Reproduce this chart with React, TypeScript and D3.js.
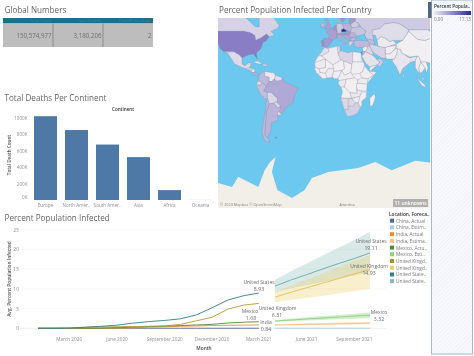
import React from "react";
import * as d3 from "d3";

const FONT = "'Open Sans', sans-serif";

// ---- Global numbers
const globalHeaders = ["Total Cases", "Total Deaths", "DeathPercentage"];
const globalValues = ["150,574,977", "3,180,206", "2"];

// ---- Deaths per continent
const continents = ["Europe", "North Amer..", "South Amer..", "Asia", "Africa", "Oceania"];
const deaths = [1016, 848, 672, 520, 120, 1];
const deathTicks = [0, 200, 400, 600, 800, 1000];

// ---- Percent infected lines
const actualMonths = ["2020-01","2020-02","2020-03","2020-04","2020-05","2020-06","2020-07","2020-08","2020-09","2020-10","2020-11","2020-12","2021-01","2021-02","2021-03"];
const forecastMonths = ["2021-04","2021-05","2021-06","2021-07","2021-08","2021-09","2021-10"];
const usActual = [0, 0, 0.05, 0.3, 0.5, 0.8, 1.3, 1.7, 2.0, 2.4, 3.4, 5.2, 7.2, 8.3, 8.93];
const ukActual = [0, 0, 0.01, 0.2, 0.35, 0.4, 0.45, 0.5, 0.6, 1.0, 1.9, 2.8, 4.9, 5.9, 6.31];
const mexicoActual = [0, 0, 0, 0, 0.05, 0.15, 0.3, 0.45, 0.55, 0.7, 0.85, 1.0, 1.35, 1.55, 1.68];
const indiaActual = [0, 0, 0, 0, 0.01, 0.05, 0.1, 0.25, 0.4, 0.5, 0.6, 0.7, 0.75, 0.8, 0.84];
const chinaActual = [0, 0, 0, 0.01, 0.01, 0.01, 0.01, 0.01, 0.01, 0.01, 0.01, 0.01, 0.01, 0.01, 0.01];
const usFc = [10.7, 12.2, 13.6, 15.0, 16.4, 17.7, 19.11];
const usHi = [12.3, 14.4, 16.4, 18.4, 20.4, 22.4, 24.5];
const usLo = [9.2, 10.1, 10.9, 11.7, 12.6, 13.4, 14.3];
const ukFc = [7.9, 9.1, 10.3, 11.4, 12.6, 13.8, 14.93];
const ukHi = [9.2, 10.8, 12.4, 13.9, 15.5, 17.1, 18.6];
const ukLo = [6.6, 7.2, 7.7, 8.2, 8.8, 9.4, 10.0];
const mxFc = [1.85, 2.1, 2.35, 2.6, 2.85, 3.1, 3.32];
const mxHi = [2.05, 2.4, 2.8, 3.1, 3.4, 3.7, 4.0];
const mxLo = [1.65, 1.8, 1.95, 2.1, 2.3, 2.45, 2.6];
const inFc = [0.85, 0.92, 1.0, 1.07, 1.15, 1.22, 1.3];
const inHi = [1.0, 1.1, 1.2, 1.35, 1.45, 1.55, 1.65];
const inLo = [0.7, 0.75, 0.8, 0.85, 0.9, 0.95, 1.0];
const cnFc = [0.02, 0.02, 0.02, 0.02, 0.02, 0.02, 0.02];
const lineTicks = [0, 5, 10, 15, 20, 25];
const monthTicks: [string, string][] = [["2020-03","March 2020"],["2020-06","June 2020"],["2020-09","September 2020"],["2020-12","December 2020"],["2021-03","March 2021"],["2021-06","June 2021"],["2021-09","September 2021"]];

const legendItems: [string, string][] = [
  ["China, Actual", "#4e6a97"], ["China, Estim..", "#a5cfe5"], ["India, Actual", "#f28e2b"], ["India, Estima..", "#ffbe7d"],
  ["Mexico, Actu..", "#4f8a3c"], ["Mexico, Esti..", "#8cd17d"], ["United Kingd..", "#a8922b"], ["United Kingd..", "#f1ce63"],
  ["United State..", "#2f7f8c"], ["United State..", "#86bcb6"],
];

// ---- Map: [name, percent infected, lon/lat ring]
type P = [number, number];
const africaCoast: P[] = [[-6,36],[-2,35],[8,37],[11,37],[11,33],[20,31],[25,32],[34,31],[35,24],[37,22],[38,18],[43,12],[51,11.5],[41,-1],[40,-10],[40,-16],[35,-20],[35,-24],[33,-27],[30,-32],[25,-34],[20,-35],[18,-33],[16,-28.5],[12,-17],[14,-10],[12,-5],[9,-1],[10,2],[9,4.5],[5,4.5],[2.5,6],[-3,5],[-8,4.5],[-13,9],[-15,11],[-17,15],[-16,16],[-17,21],[-13,28],[-10,31]];
const americas: [string, number, P[]][] = [
  ["Canada", 2.4, [[-130,64],[-130,49],[-95,49],[-88,48],[-83,46],[-82,42],[-76,44],[-70,47],[-67,45],[-61,46],[-65,49],[-58,51],[-56,53],[-62,58],[-68,60],[-78,62],[-78,52],[-82,52],[-93,58],[-95,64]]],
  ["United States", 9.2, [[-130,49],[-95,49],[-88,48],[-83,46],[-82,42],[-76,44],[-70,47],[-67,45],[-70,42],[-74,40],[-76,35],[-81,31],[-80,25],[-82,27],[-84,30],[-90,29],[-97,26],[-100,29],[-106,32],[-117,32],[-121,35],[-125,42]]],
  ["Mexico", 1.7, [[-117,32],[-106,32],[-100,29],[-97,26],[-97,20],[-94,18],[-90,21],[-87,21],[-88,17],[-92,15],[-96,16],[-105,20],[-110,27],[-113,31]]],
  ["Guatemala", 1.2, [[-92,15],[-88,17],[-88,15.7],[-90,13.7]]],
  ["Honduras", 1.7, [[-88,15.7],[-83,15],[-87,13],[-90,13.7]]],
  ["Nicaragua", 0.2, [[-87,13],[-83,15],[-83,11],[-86,11]]],
  ["Panama", 5, [[-86,11],[-83,11],[-78,9],[-80,7.5],[-85,9]]],
  ["Cuba", 0.5, [[-85,22],[-80,23],[-74,20],[-78,20]]],
  ["Hispaniola", 2, [[-74,20],[-69,19.5],[-69,18],[-74,18]]],
  ["Colombia", 4.5, [[-78,8],[-75,11],[-72,12],[-72,7],[-67,6],[-67,1],[-70,-4],[-75,0],[-79,2]]],
  ["Venezuela", 0.5, [[-72,12],[-62,10.5],[-60,8],[-61,4],[-64,1],[-67,1],[-67,6],[-72,7]]],
  ["Guianas", 1.5, [[-60,8],[-52,5],[-54,2],[-60,1.5],[-61,4]]],
  ["Ecuador", 1.9, [[-79,2],[-75,0],[-76,-3],[-80,-3],[-81,-1]]],
  ["Peru", 4, [[-81,-4],[-80,-3],[-76,-3],[-75,0],[-70,-4],[-73,-9],[-69,-11],[-69,-17],[-71,-18],[-76,-14]]],
  ["Brazil", 5.7, [[-60,1.5],[-54,2],[-52,5],[-50,0],[-44,-2],[-35,-6],[-39,-14],[-41,-22],[-48,-26],[-53,-33],[-57,-30],[-54,-26],[-58,-22],[-58,-17],[-65,-11],[-69,-11],[-73,-9],[-70,-4],[-67,1],[-64,1],[-61,4]]],
  ["Bolivia", 2, [[-69,-11],[-65,-11],[-58,-17],[-58,-20],[-62,-22],[-67,-23],[-69,-17]]],
  ["Paraguay", 2.3, [[-58,-20],[-58,-22],[-54,-25],[-58,-27],[-62,-22]]],
  ["Argentina", 4.8, [[-67,-23],[-62,-22],[-58,-27],[-54,-26],[-58,-34],[-57,-38],[-65,-41],[-65,-46],[-69,-52],[-72,-50],[-71,-40],[-70,-30]]],
  ["Uruguay", 1.5, [[-58,-34],[-53,-33.5],[-57,-30]]],
  ["Chile", 4.6, [[-69,-17],[-67,-23],[-70,-30],[-71,-40],[-72,-50],[-69,-52],[-66,-55],[-72,-54],[-75,-48],[-73,-38],[-71,-30],[-70,-18]]],
  ["Falklands", 9, [[-61,-51.5],[-58,-51.5],[-59,-52.3]]],
];
const africa: [string, number, P[]][] = [
  ["Morocco", 1.3, [[-6,36],[-2,35],[-1,32],[-9,28],[-13,28],[-10,31]]],
  ["Western Sahara", 0, [[-13,28],[-9,28],[-5,25],[-12,23],[-17,21]]],
  ["Algeria", 0.3, [[-2,35],[8,37],[9,30],[12,24],[3,19],[-5,25],[-9,28],[-1,32]]],
  ["Tunisia", 2, [[8,37],[11,37],[11,33],[9,30]]],
  ["Libya", 2.2, [[11,33],[20,31],[25,32],[25,20],[24,19.5],[15,23],[12,24],[9,30]]],
  ["Egypt", 0.2, [[25,32],[34,31],[35,24],[37,22],[25,22]]],
  ["Mauritania", 0.3, [[-17,21],[-12,23],[-5,25],[-5,16],[-12,15],[-16,16]]],
  ["Mali", 0.05, [[-12,15],[-5,16],[-5,25],[3,19],[4,15],[-2,15],[-5,10],[-11,11]]],
  ["Niger", 0.02, [[3,19],[12,24],[15,23],[16,15],[13,13],[4,12],[4,15]]],
  ["Chad", 0.02, [[15,23],[24,19.5],[23,11],[16,8],[13,13],[16,15]]],
  ["Sudan", 0.05, [[24,19.5],[25,22],[37,22],[38,18],[36,12],[33,10],[24,9],[23,11]]],
  ["Senegal", 0.2, [[-17,15],[-16,16],[-12,15],[-11,11],[-13,9],[-15,11]]],
  ["Ivory Coast", 0.1, [[-13,9],[-11,11],[-5,10],[-3,5],[-8,4.5]]],
  ["Ghana", 0.3, [[-5,10],[-2,15],[4,15],[4,12],[2.5,6],[-3,5]]],
  ["Nigeria", 0.08, [[2.5,6],[4,12],[13,13],[9,4.5],[5,4.5]]],
  ["Cameroon", 0.2, [[9,4.5],[13,13],[16,8],[23,11],[27,5],[18,3.5],[10,2]]],
  ["Gabon", 0.5, [[10,2],[18,3.5],[16,-5],[12,-5],[9,-1]]],
  ["DR Congo", 0.03, [[18,3.5],[27,5],[31,3],[29,-4],[30,-12],[22,-11],[16,-5]]],
  ["Angola", 0.07, [[12,-5],[16,-5],[22,-11],[24,-17],[12,-17],[14,-10]]],
  ["Ethiopia", 0.2, [[36,12],[38,18],[43,12],[48,8],[42,4],[35,5],[33,10]]],
  ["Somalia", 0.1, [[43,12],[51,11.5],[41,-1],[42,4],[48,8]]],
  ["Kenya", 0.3, [[31,3],[35,5],[42,4],[41,-2],[34,-1],[30,-1]]],
  ["Tanzania", 0.01, [[30,-1],[34,-1],[41,-2],[40,-10],[30,-8],[29,-4]]],
  ["Zambia", 0.5, [[22,-11],[30,-12],[30,-8],[35,-10],[33,-15],[24,-17]]],
  ["Mozambique", 0.2, [[40,-10],[35,-10.5],[33,-15],[31,-22],[33,-26],[35,-24],[35,-20],[40,-16]]],
  ["Zimbabwe", 0.25, [[24,-17.5],[33,-15],[31,-22],[28,-22]]],
  ["Namibia", 1.8, [[12,-17],[24,-17.5],[20,-22],[20,-29],[16,-28.5]]],
  ["Botswana", 1.9, [[20,-18],[24,-17.5],[28,-22],[25,-25.5],[20,-25]]],
  ["South Africa", 2.6, [[16.5,-28.5],[20,-29],[20,-25],[25,-25.5],[28,-22],[31,-22],[33,-27],[30,-32],[25,-34],[20,-35],[18,-33]]],
  ["Madagascar", 0.1, [[49,-12],[50,-16],[47,-25],[44,-25],[44,-17]]],
];
const eurasia: [string, number, P[]][] = [
  ["Spain", 7, [[-7,43.5],[-2,43.5],[3,42],[0,39],[-2,37],[-5.5,36],[-7,37],[-7,42]]],
  ["Portugal", 8, [[-9.5,42],[-7,42],[-7,37],[-9,37]]],
  ["France", 6.5, [[-2,43.5],[3,42.5],[7.5,44],[8,49],[2.5,51],[-4.5,48.5],[-1,46]]],
  ["United Kingdom", 6.3, [[-5,50],[1.5,51],[0,53.5],[-2,56],[-3,58.6],[-6,57],[-3,54],[-5,52]]],
  ["Ireland", 4.5, [[-10,52],[-6,52],[-6,55],[-10,54]]],
  ["Germany", 3.2, [[7,51],[8,49],[8,47.5],[13,47.5],[12.5,50],[15,51],[14,54],[9,54.5],[7,53.5]]],
  ["Benelux", 7.5, [[2.5,51],[8,49],[7,51],[7,53.5],[4.5,52.5]]],
  ["Alps", 6.5, [[8,47.5],[17,48],[16,46.5],[8,46]]],
  ["Italy", 5.5, [[7.5,44],[8,46],[13.5,46.5],[12.5,44],[18,40],[16,38],[12,42],[9,44.3]]],
  ["Czechia", 17.13, [[12.5,50],[13,48.5],[17,48.7],[18.8,49.5],[15,51]]],
  ["Poland", 5, [[14,54],[15,51],[18.8,49.5],[24,49],[23,54],[19,54.5]]],
  ["Sweden", 7.5, [[11,60],[18,60],[16,56],[13,55.5],[11,58]]],
  ["Norway", 2, [[5,60],[11,60],[8,58]]],
  ["Denmark", 4, [[8,55],[10,57.5],[11,55]]],
  ["Baltics", 7, [[21,54],[23,54],[28,56],[28,60],[23,60],[21,56]]],
  ["Belarus", 3, [[23,54],[24,51.5],[31,52],[32,54],[28,56]]],
  ["Ukraine", 3.5, [[24,51.5],[22.5,48],[29,45.5],[33,46],[38,47],[40,49],[34,52],[31,52]]],
  ["Hungary", 7, [[17,48],[18.8,49.5],[22.5,48.5],[21,46],[16,46.5]]],
  ["Romania", 5, [[21,46],[22.5,48],[27,48],[29,45.5],[28,44],[23,44]]],
  ["Bulgaria", 4, [[23,44],[28,44],[28,42],[23,41.5]]],
  ["Balkans", 6, [[13.5,46.5],[16,46.5],[21,46],[23,44],[23,41.5],[19.5,41.8]]],
  ["Greece", 2.5, [[20,40],[23,41.5],[26,41],[23,38],[22,36.7]]],
  ["Turkey", 4.5, [[26,42],[28,42],[35,42],[42,41.5],[44,39],[44,37],[36,36],[30,36],[27,37]]],
  ["Russia", 3, [[28,60],[28,56],[32,54],[34,52],[40,49],[38,47],[40,43.5],[48,42],[47,46],[50,46],[47,50],[55,51],[60,54],[70,55],[77,54],[87,50],[98,50],[108,50],[120,53],[120,64],[28,64]]],
  ["Kazakhstan", 1.5, [[47,46],[50,46],[52,42],[56,45],[60,44],[66,41],[70,42],[80,42],[85,47],[87,50],[77,54],[70,55],[60,54],[55,51],[47,50]]],
  ["Caucasus", 4, [[40,43.5],[48,42],[49,39],[44,39],[42,41.5]]],
  ["Iran", 2.2, [[44,39],[49,38],[53,37],[61,36],[61,31],[63,26],[57,26],[50,30],[46,33],[44,37]]],
  ["Iraq", 2, [[42,37],[44,37],[46,33],[48,30],[46,29],[39,32]]],
  ["Syria", 0.1, [[36,36],[42,37],[39,32],[36,33]]],
  ["Israel", 12, [[34.3,31],[35.7,33],[35.5,29.5]]],
  ["Jordan", 4.5, [[36,33],[39,32],[37,29.5],[35.5,29.5]]],
  ["Saudi Arabia", 1, [[35,28],[37,29.5],[39,32],[46,29],[48,28],[51,25],[55,22],[52,19],[44,17],[39,21]]],
  ["Yemen", 0.03, [[44,17],[52,19],[45,13],[43,13]]],
  ["Oman", 3, [[51,25],[56,25],[59,22],[55,17],[52,19],[55,22]]],
  ["Uzbekistan", 0.3, [[52,42],[56,45],[60,44],[66,41],[70,42],[73,39],[66,37],[61,36],[53,37]]],
  ["Kyrgyzstan", 1, [[66,37],[73,39],[80,42],[74,35],[71,34],[73,38]]],
  ["Afghanistan", 0.1, [[61,36],[66,37],[73,38],[71,34],[66,30],[61,30]]],
  ["Pakistan", 0.3, [[61,30],[66,30],[71,34],[75,36],[74,31],[71,25],[67,25],[62,25]]],
  ["India", 0.9, [[74,35],[78,34],[79,31],[88,26],[96,28],[94,23],[89,22],[80,15],[77,8],[73,17],[70,21],[68,24],[71,25],[74,31]]],
  ["China", 0.01, [[73,39],[80,42],[85,47],[87,49],[96,43],[105,42],[115,45],[125,50],[125,20],[110,21],[106,22],[100,22],[98,27],[96,28],[88,27],[79,31],[78,34],[74,35]]],
  ["Mongolia", 0.5, [[87,50],[98,50],[108,50],[115,47],[115,45],[105,42],[96,43],[87,49]]],
  ["Myanmar", 0.3, [[94,23],[96,28],[98,27],[100,22],[98,16],[98,10],[94,16]]],
  ["Thailand", 0.05, [[100,22],[105,16],[102,12],[99,10],[101,7],[99,8],[98,16]]],
  ["Vietnam", 0.01, [[100,22],[106,22],[108,16],[106,10],[105,16]]],
  ["Malaysia", 1, [[100,6],[104,1.5],[103,5]]],
  ["Sumatra", 0.5, [[95,5.5],[104,-2],[106,-6],[101,-3]]],
  ["Borneo", 0.5, [[109,1],[112,-3],[118,1],[119,5]]],
  ["Sri Lanka", 0.4, [[80,9.5],[82,7],[80.5,6]]],
];
const antarctica: P[] = [[-130,-73.5],[-123,-73.5],[-108,-74.7],[-101,-71.5],[-79,-74.7],[-72,-69],[-66,-65.5],[-60,-63.2],[-64,-69.7],[-58,-75.6],[-42,-77.6],[-28,-75.6],[-20,-71.9],[-2,-69.7],[31,-68.1],[50,-65.5],[68,-69],[94,-65],[115,-66],[115,-84],[-130,-84]];

const projection = d3.geoMercator().scale(52).translate([330, 82.5]);
const mapLine = d3.line();
const ringPath = (ring: P[]) => mapLine(ring.map((p) => projection(p) as [number, number])) + "Z";
const mapColor = d3.scaleLinear<string>().domain([0, 9, 17.13]).range(["#f1eff1", "#8b80c6", "#2b2a92"]);

const x = d3.scaleBand().domain(continents).range([30, 216]).paddingInner(8 / 31).paddingOuter(4 / 31);
const yBar = d3.scaleLinear().domain([0, 1000]).range([200, 117.5]);

const parse = d3.timeParse("%Y-%m");
const xTime = d3.scaleTime().domain([parse("2020-01")!, parse("2021-10")!]).range([38, 370]);
const yLine = d3.scaleLinear().domain([0, 25]).range([328.3, 229.7]);
const lineOf = (months: string[], vals: number[]) =>
  d3.line<number>().x((_, i) => xTime(parse(months[i])!)).y((v) => yLine(v))(vals)!;
const bandOf = (months: string[], hi: number[], lo: number[]) =>
  d3.area<number>().x((_, i) => xTime(parse(months[i])!)).y0((_, i) => yLine(lo[i])).y1((v) => yLine(v))(hi)!;

const grey = "#8f8f8f";
const dark = "#666";

const Lbl = ({ x, y, t, fs = 5, fill = "#6a6a6a", anchor = "middle", bold = false }: any) => (
  <text x={x} y={y} fontSize={fs} fill={fill} textAnchor={anchor} fontWeight={bold ? 600 : 400}>{t}</text>
);

export default function App() {
  const cols = [3, 53, 103, 153];
  return (
    <svg width={474} height={356} style={{ position: "absolute", left: 0, top: 0, background: "#fff", filter: "blur(0.3px)" }} fontFamily={FONT}>
      <defs>
        <clipPath id="mapClip"><rect x={218} y={18} width={212} height={190} /></clipPath>
        <linearGradient id="ramp"><stop offset="0" stopColor="#ecebf4" /><stop offset="1" stopColor="#2b2a92" /></linearGradient>
        <pattern id="hatch" width={3} height={3} patternUnits="userSpaceOnUse" patternTransform="rotate(45)">
          <rect width={3} height={3} fill="#f7f9fd" /><line x1={0} y1={0} x2={0} y2={3} stroke="#e8edf6" strokeWidth={1} />
        </pattern>
      </defs>

      {/* Global numbers */}
      <Lbl x={4.5} y={13} t="Global Numbers" fs={8.15} fill={dark} anchor="start" />
      <rect x={cols[0]} y={18} width={150} height={5.5} fill="#1b6f88" />
      {globalHeaders.map((h, i) => <Lbl key={h} x={cols[i + 1] - 2} y={22.3} t={h} fs={4} fill="#3b8ba0" anchor="end" />)}
      <rect x={cols[0]} y={23.5} width={150} height={23.5} fill="#bdbdbd" />
      {[cols[1], cols[2]].map((c) => <line key={c} x1={c} x2={c} y1={23.5} y2={47} stroke="#777" strokeWidth={0.7} />)}
      {globalValues.map((v, i) => <Lbl key={v} x={cols[i + 1] - 1.5} y={38} t={v} fs={6.2} fill="#6f6f6f" anchor="end" />)}

      {/* Deaths */}
      <Lbl x={4.5} y={101} t="Total Deaths Per Continent" fs={8.15} fill={dark} anchor="start" />
      <Lbl x={123} y={111} t="Continent" fs={4.6} fill="#333" bold />
      <text transform="translate(11,155) rotate(-90)" fontSize={4.6} fontWeight={600} fill="#555" textAnchor="middle">Total Death Count</text>
      {deathTicks.map((t) => (
        <text key={t} x={27.5} y={(t === 0 ? yBar(t) - 3 : yBar(t)) + 2} fontSize={4.6} fill={grey} textAnchor="end">{t === 0 ? "0K" : t === 1000 ? "1000K" : `${t}K`}</text>
      ))}
      {continents.map((c, i) => (
        <g key={c}>
          <rect x={x(c)} y={yBar(deaths[i])} width={x.bandwidth()} height={200 - yBar(deaths[i])} fill="#4e79a7" />
          <text x={x(c)! + x.bandwidth() / 2} y={207} fontSize={4.6} fill={grey} textAnchor="middle">{c}</text>
        </g>
      ))}

      {/* Map */}
      <Lbl x={219} y={13} t="Percent Population Infected Per Country" fs={8.15} fill={dark} anchor="start" />
      <g clipPath="url(#mapClip)">
        <rect x={218} y={18} width={212} height={190} fill="#6cc8ee" />
        <path d={ringPath(antarctica)} fill="#f2eee8" />
        <path d={ringPath(africaCoast)} fill={mapColor(0.05)} />
        {[...americas, ...africa, ...eurasia].map(([name, v, ring]) => (
          <path key={name} d={ringPath(ring)} fill={mapColor(v)} stroke="#8a8a9c" strokeWidth={0.3} />
        ))}
      </g>
      <Lbl x={220} y={206} t="© 2023 Mapbox © OpenStreetMap" fs={3.8} fill="#8a8a8a" anchor="start" />
      <Lbl x={347} y={205.5} t="Antarctica" fs={3.2} fill="#777" />
      <rect x={393} y={199} width={35} height={8} fill="#b0b0ae" />
      <Lbl x={410.5} y={205} t="11 unknowns" fs={5} fill="#fff" bold />

      {/* Right panel */}
      <rect x={431.5} y={0} width={41} height={354} fill="url(#hatch)" stroke="#a8b6d0" strokeWidth={1} />
      <rect x={428} y={2} width={3.5} height={16} fill="#51657f" />
      <Lbl x={434} y={8} t="Percent Popula.." fs={4.6} fill="#333" anchor="start" bold />
      <rect x={434} y={11} width={37} height={4} fill="url(#ramp)" />
      <Lbl x={434} y={21} t="0.00" fs={4.6} fill="#777" anchor="start" />
      <Lbl x={471} y={21} t="17.13" fs={4.6} fill="#777" anchor="end" />

      {/* Lines */}
      <Lbl x={4.5} y={220.5} t="Percent Population Infected" fs={8.15} fill={dark} anchor="start" />
      <text transform="translate(10.5,279) rotate(-90)" fontSize={4.8} fontWeight={600} fill="#555" textAnchor="middle">Avg. Percent Population Infected</text>
      {lineTicks.map((t) => (
        <g key={t}>
          <line x1={21} x2={386} y1={yLine(t)} y2={yLine(t)} stroke={t === 0 ? "#e2e2e2" : "#f4f4f4"} strokeWidth={0.6} />
          <text x={19} y={yLine(t) + 2} fontSize={5} fill={grey} textAnchor="end">{t}</text>
        </g>
      ))}
      {monthTicks.map(([m, label]) => (
        <text key={m} x={xTime(parse(m)!)} y={341} fontSize={4.7} fill={grey} textAnchor="middle">{label}</text>
      ))}
      <Lbl x={204} y={349.5} t="Month" fs={4.8} fill="#444" bold />

      <path d={bandOf(forecastMonths, usHi, usLo)} fill="#86bcb6" opacity={0.32} />
      <path d={bandOf(forecastMonths, ukHi, ukLo)} fill="#f1ce63" opacity={0.32} />
      <path d={bandOf(forecastMonths, mxHi, mxLo)} fill="#8cd17d" opacity={0.4} />
      <path d={bandOf(forecastMonths, inHi, inLo)} fill="#ffbe7d" opacity={0.4} />
      {[
        [actualMonths, chinaActual, "#4e6a97"], [actualMonths, indiaActual, "#f28e2b"], [actualMonths, mexicoActual, "#4f8a3c"],
        [actualMonths, ukActual, "#b59a2f"], [actualMonths, usActual, "#2f7f8c"],
        [forecastMonths, cnFc, "#a5cfe5"], [forecastMonths, inFc, "#ffbe7d"], [forecastMonths, mxFc, "#8cd17d"],
        [forecastMonths, ukFc, "#e3bf55"], [forecastMonths, usFc, "#6ea9a5"],
      ].map(([m, v, c]: any, i) => (
        <path key={i} d={lineOf(m, v)} fill="none" stroke={c} strokeWidth={0.9} />
      ))}

      <Lbl x={259} y={284} t="United States" /><Lbl x={259} y={291} t="8.93" fs={5.2} />
      <Lbl x={277.5} y={310} t="United Kingdom" /><Lbl x={277} y={317} t="6.31" fs={5.2} />
      <Lbl x={250} y={313} t="Mexico" /><Lbl x={251} y={320} t="1.68" fs={5.2} />
      <Lbl x={266} y={324} t="India" /><Lbl x={266} y={331} t="0.84" fs={5.2} />
      <Lbl x={371} y={243} t="United States" /><Lbl x={371} y={250} t="19.11" fs={5.2} />
      <Lbl x={369} y={268} t="United Kingdom" /><Lbl x={369} y={274.5} t="14.93" fs={5.2} />
      <Lbl x={379} y={314} t="Mexico" /><Lbl x={379} y={321} t="3.32" fs={5.2} />

      {/* Legend */}
      <Lbl x={389} y={216} t="Location, Foreca.." fs={4.8} fill="#333" anchor="start" bold />
      {legendItems.map(([t, c], i) => (
        <g key={i} transform={`translate(0,${i * 6.72})`}>
          <rect x={390} y={218.7} width={4} height={4} fill={c} />
          <Lbl x={396} y={222.7} t={t} fs={4.8} fill="#777" anchor="start" />
        </g>
      ))}
    </svg>
  );
}
